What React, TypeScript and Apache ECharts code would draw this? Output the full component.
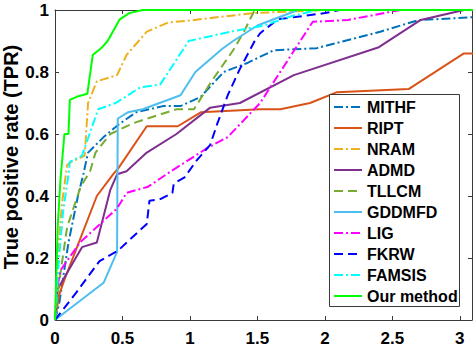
import React, { useEffect, useRef } from "react";
import * as echarts from "echarts";

// ROC curves: false positive rate (x) vs true positive rate (y)
const methodNames = [
  "MITHF", "RIPT", "NRAM", "ADMD", "TLLCM",
  "GDDMFD", "LIG", "FKRW", "FAMSIS", "Our method",
];

const mithf = [[0,0],[0.03,0.05],[0.1,0.25],[0.17,0.4],[0.21,0.47],[0.245,0.54],[0.36,0.59],[0.47,0.63],[0.6,0.67],[0.8,0.69],[0.93,0.69],[1.08,0.72],[1.25,0.8],[1.43,0.83],[1.62,0.87],[1.94,0.877],[2.41,0.93],[2.69,0.967],[3.1,0.977]];
const ript = [[0,0],[0.03,0.08],[0.07,0.13],[0.31,0.4],[0.43,0.47],[0.47,0.49],[0.68,0.625],[0.91,0.625],[1.08,0.67],[1.52,0.68],[1.67,0.68],[1.89,0.7],[2.09,0.735],[2.62,0.745],[3.03,0.86],[3.1,0.86]];
const nram = [[0,0],[0.02,0.2],[0.05,0.37],[0.09,0.5],[0.12,0.51],[0.22,0.53],[0.245,0.7],[0.31,0.77],[0.46,0.79],[0.53,0.855],[0.68,0.93],[0.84,0.96],[0.98,0.965],[1.17,0.975],[1.47,0.99],[2.0,1],[3.1,1]];
const admd = [[0,0],[0.02,0.1],[0.2,0.235],[0.31,0.25],[0.41,0.42],[0.46,0.47],[0.53,0.48],[0.68,0.54],[0.9,0.6],[1.15,0.685],[1.37,0.7],[1.77,0.79],[2.4,0.88],[2.71,0.968],[3.03,1],[3.1,1]];
const tllcm = [[0,0],[0.03,0.12],[0.09,0.3],[0.19,0.43],[0.26,0.48],[0.3,0.54],[0.41,0.6],[0.58,0.635],[0.9,0.68],[1.03,0.68],[1.16,0.77],[1.32,0.87],[1.4,0.93],[1.48,1],[3.1,1]];
const gddmfd = [[0,0],[0.36,0.12],[0.46,0.22],[0.465,0.65],[0.54,0.67],[0.65,0.68],[0.93,0.725],[1.04,0.8],[1.24,0.875],[1.32,0.9],[1.5,0.95],[1.8,1],[3.1,1]];
const lig = [[0,0],[0.01,0.087],[0.04,0.16],[0.185,0.25],[0.46,0.36],[0.53,0.41],[0.69,0.43],[0.86,0.48],[1.13,0.555],[1.28,0.59],[1.52,0.7],[1.91,0.962],[2.17,0.968],[2.56,1],[3.1,1]];
const fkrw = [[0,0],[0.16,0.09],[0.33,0.19],[0.47,0.225],[0.68,0.31],[0.7,0.385],[0.78,0.39],[0.87,0.41],[0.88,0.44],[0.96,0.46],[1.05,0.515],[1.15,0.565],[1.2,0.63],[1.28,0.725],[1.37,0.81],[1.48,0.9],[1.52,0.925],[1.65,0.97],[2.0,0.99],[2.11,1],[3.1,1]];
const famsis = [[0,0],[0.03,0.2],[0.06,0.35],[0.1,0.47],[0.11,0.51],[0.2,0.53],[0.32,0.68],[0.45,0.7],[0.63,0.75],[0.78,0.76],[0.99,0.9],[1.3,0.93],[1.55,0.95],[1.75,0.98],[1.95,1],[3.1,1]];
const ours = [[0,0],[0.02,0.3],[0.04,0.45],[0.07,0.6],[0.1,0.6],[0.11,0.71],[0.16,0.72],[0.24,0.73],[0.28,0.855],[0.35,0.88],[0.39,0.9],[0.48,0.97],[0.55,0.99],[0.65,1],[3.1,1]];

const seriesData = [mithf, ript, nram, admd, tllcm, gddmfd, lig, fkrw, famsis, ours];

const colors = [
  "#0072BD", "#D95319", "#EDB120", "#7E2F8E", "#77AC30",
  "#4DBEEE", "#FF00FF", "#0000FF", "#00FFFF", "#00FF00",
];

const dashDot = [9, 3, 2, 3];
const dashed = [9, 5];
const lineTypes: any[] = [
  dashDot, "solid", dashDot, "solid", dashed,
  "solid", dashDot, dashed, dashDot, "solid",
];

const xMin = 0;
const xMax = 3.09;
const xInterval = 0.5;
const yMin = 0;
const yMax = 1;
const yInterval = 0.2;
const yTitle = "True positive rate (TPR)";

const FONT = "'Liberation Sans', Arial, Helvetica, sans-serif";
const AXIS_COLOR = "#3a3a3a";

export default function App() {
  const ref = useRef<HTMLDivElement>(null);

  useEffect(() => {
    if (!ref.current) return;
    const chart = echarts.init(ref.current, undefined, { renderer: "svg" });
    const grid = {
      left: 55,
      top: 10,
      width: 417,
      height: 310,
      containLabel: false,
      outerBoundsMode: "none",
    };

    const baseX = {
      type: "value" as const,
      min: xMin,
      max: xMax,
      interval: xInterval,
      splitLine: { show: false },
      axisLine: { show: true, onZero: false, lineStyle: { color: AXIS_COLOR, width: 1 } },
      axisTick: { show: true, inside: true, length: 4, lineStyle: { color: AXIS_COLOR } },
    };
    const baseY = {
      type: "value" as const,
      min: yMin,
      max: yMax,
      interval: yInterval,
      splitLine: { show: false },
      axisLine: { show: true, onZero: false, lineStyle: { color: AXIS_COLOR, width: 1 } },
      axisTick: { show: true, inside: true, length: 4, lineStyle: { color: AXIS_COLOR } },
    };

    chart.setOption({
      animation: false,
      backgroundColor: "#ffffff",
      grid,
      xAxis: [
        {
          ...baseX,
          position: "bottom",
          axisLabel: {
            show: true,
            showMaxLabel: false,
            margin: 10,
            color: "#000",
            fontSize: 17,
            fontWeight: "bold",
            fontFamily: FONT,
          },
        },
        { ...baseX, position: "top", axisLabel: { show: false } },
      ],
      yAxis: [
        {
          ...baseY,
          position: "left",
          axisLabel: {
            show: true,
            margin: 6,
            color: "#000",
            fontSize: 17,
            fontWeight: "bold",
            fontFamily: FONT,
          },
        },
        { ...baseY, position: "right", axisLabel: { show: false } },
      ],
      graphic: [
        {
          type: "text",
          x: 11,
          y: 157,
          rotation: Math.PI / 2,
          style: {
            text: yTitle,
            fill: "#000",
            font: `bold 20px ${FONT}`,
            align: "center",
            verticalAlign: "middle",
          },
        },
        {
          // legend frame
          type: "rect",
          z: 9,
          shape: { x: 329.5, y: 94.5, width: 130, height: 212 },
          style: { fill: "#ffffff", stroke: AXIS_COLOR, lineWidth: 1 },
        },
      ],
      legend: {
        orient: "vertical",
        left: 333,
        top: 99,
        padding: 0,
        itemGap: 5,
        itemWidth: 28,
        itemHeight: 14,
        z: 10,
        data: methodNames,
        itemStyle: { opacity: 0 },
        textStyle: { color: "#000", fontSize: 16, fontWeight: "bold", fontFamily: FONT },
      },
      series: methodNames.map((name, i) => ({
        name,
        type: "line",
        data: seriesData[i],
        showSymbol: false,
        symbol: "none",
        color: colors[i],
        lineStyle: { color: colors[i], width: 2, type: lineTypes[i] },
      })),
    });

    return () => chart.dispose();
  }, []);

  return (
    <div
      ref={ref}
      style={{ position: "absolute", left: 0, top: 0, width: 474, height: 351 }}
    />
  );
}
